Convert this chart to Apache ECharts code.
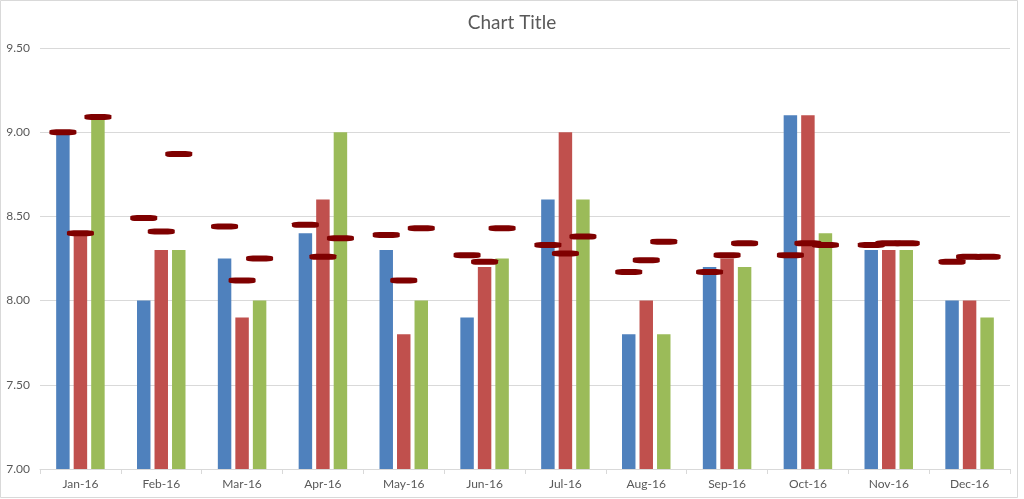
<!DOCTYPE html>
<html>
<head>
<meta charset="utf-8">
<script src="https://cdn.jsdelivr.net/npm/echarts@6/dist/echarts.min.js"></script>
<style>
html,body{margin:0;padding:0;background:#fff;}
#chart{width:1024px;height:499px;}
</style>
</head>
<body>
<div id="chart"></div>
<script>
const categories = ['Jan-16','Feb-16','Mar-16','Apr-16','May-16','Jun-16','Jul-16','Aug-16','Sep-16','Oct-16','Nov-16','Dec-16'];
const seriesA = [9.00, 8.00, 8.25, 8.40, 8.30, 7.90, 8.60, 7.80, 8.20, 9.10, 8.30, 8.00];
const seriesB = [8.40, 8.30, 7.90, 8.60, 7.80, 8.20, 9.00, 8.00, 8.25, 9.10, 8.30, 8.00];
const seriesC = [9.10, 8.30, 8.00, 9.00, 8.00, 8.25, 8.60, 7.80, 8.20, 8.40, 8.30, 7.90];
const markA = [9.00, 8.49, 8.44, 8.45, 8.39, 8.27, 8.33, 8.17, 8.17, 8.27, 8.33, 8.23];
const markB = [8.40, 8.41, 8.12, 8.26, 8.12, 8.23, 8.28, 8.24, 8.27, 8.34, 8.34, 8.26];
const markC = [9.09, 8.87, 8.25, 8.37, 8.43, 8.43, 8.38, 8.35, 8.34, 8.33, 8.34, 8.26];
const yTicks = { min: 7, max: 9.5, interval: 0.5 };

const chart = echarts.init(document.getElementById('chart'), null, { renderer: 'canvas' });
const font = 'Lato, "Open Sans", sans-serif';
const barColors = ['#4f81bd', '#c0504d', '#9bbb59'];
const markColor = '#7f0000';

function barSeries(name, data, color) {
  return {
    name: name, type: 'bar', data: data,
    barCategoryGap: '40%', barGap: '30%',
    itemStyle: { color: color },
    z: 2
  };
}
function markSeries(name, data) {
  return {
    name: name, type: 'pictorialBar', data: data,
    barCategoryGap: '40%', barGap: '30%',
    symbol: 'roundRect',
    symbolSize: [27, 6],
    symbolPosition: 'end',
    symbolOffset: [0, '-50%'],
    itemStyle: { color: markColor },
    z: 5
  };
}

chart.setOption({
  animation: false,
  backgroundColor: '#fff',
  title: {
    text: 'Chart Title', left: 'center', top: 8,
    textStyle: { fontFamily: font, fontSize: 19, fontWeight: 'normal', color: '#595959' }
  },
  graphic: [{
    type: 'rect', silent: true, z: -1,
    shape: { x: 0.5, y: 0.5, width: 1017, height: 497 },
    style: { fill: 'none', stroke: '#d9d9d9', lineWidth: 1 }
  }],
  grid: { left: 40, right: 14, top: 48, bottom: 30, containLabel: false },
  xAxis: {
    type: 'category', data: categories,
    axisLine: { lineStyle: { color: '#d9d9d9' } },
    axisTick: { show: true, length: 5, lineStyle: { color: '#d9d9d9' } },
    axisLabel: { fontFamily: font, fontSize: 12, color: '#595959', margin: 9 }
  },
  yAxis: {
    type: 'value', min: yTicks.min, max: yTicks.max, interval: yTicks.interval,
    axisLine: { show: false }, axisTick: { show: false },
    splitLine: { lineStyle: { color: '#d9d9d9' } },
    axisLabel: { fontFamily: font, fontSize: 12, color: '#595959', margin: 10,
      formatter: v => v.toFixed(2) }
  },
  series: [
    barSeries('Series1', seriesA, barColors[0]),
    barSeries('Series2', seriesB, barColors[1]),
    barSeries('Series3', seriesC, barColors[2]),
    markSeries('Target1', markA),
    markSeries('Target2', markB),
    markSeries('Target3', markC)
  ]
});
</script>
</body>
</html>
